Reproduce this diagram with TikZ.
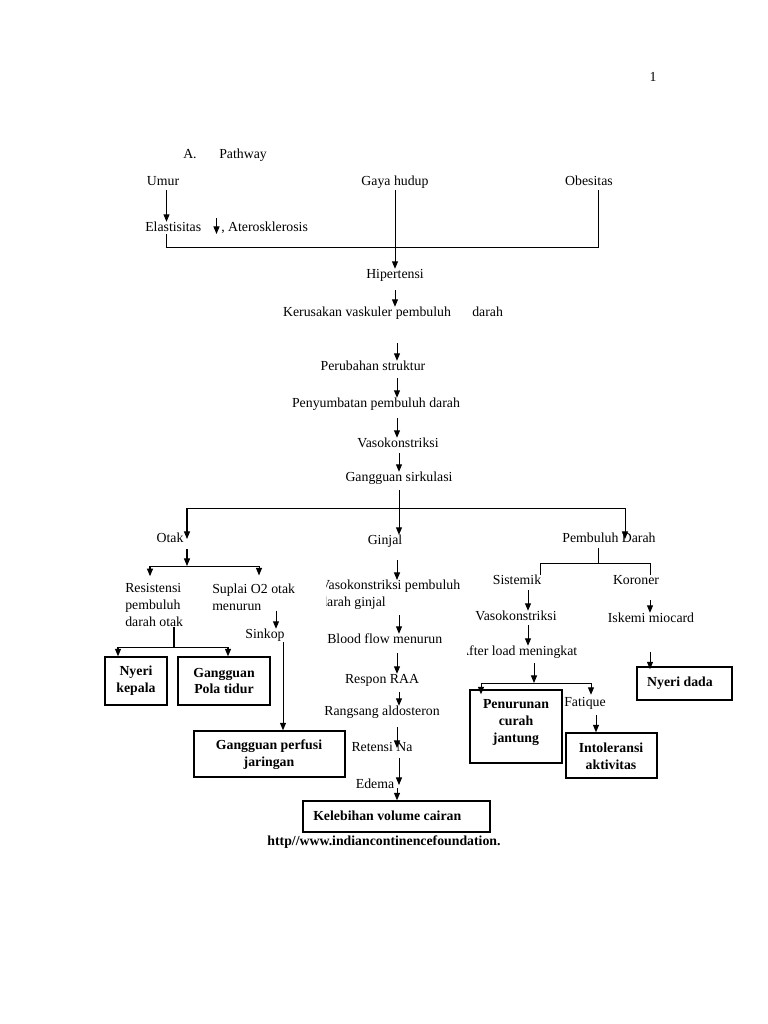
\documentclass[tikz,border=0pt]{standalone}
\usepackage{fontspec}
\setmainfont{Liberation Serif}
\usetikzlibrary{arrows.meta,fit,calc}
\begin{document}
\begin{tikzpicture}[x=0.797pt,y=-0.797pt,font=\fontsize{11}{13.5}\selectfont,
		tx/.style={inner sep=0pt,text height=7.5pt,text depth=2pt},
		mt/.style={inner sep=0pt,align=left},
		bt/.style={inner sep=0pt,align=center,font=\fontsize{11}{13.5}\selectfont\bfseries},
		bx/.style={draw,line width=1.1pt,inner sep=0pt},
		ar/.style={line width=0.8pt,-{Triangle[length=6pt,width=4.8pt]}},
		ln/.style={line width=0.8pt}]
	\useasboundingbox (0,0) rectangle (768,1024);
	% heading
	\node[tx] (pg) at (653,78) {1};
	\node[tx,anchor=west] (hA) at (183,155) {A.};
	\node[tx,anchor=west] (hP) at (219,155) {Pathway};
	% causes
	\node[tx] (umur) at (163,182) {Umur};
	\node[tx] (gaya) at (395,182) {Gaya hudup};
	\node[tx] (obes) at (589,182) {Obesitas};
	\node[tx,anchor=west] (elast) at (145,228) {Elastisitas};
	\node[tx,anchor=west] (ater) at (221,228) {, Aterosklerosis};
	\coordinate (cU) at (166.5,247);
	\coordinate (cR) at (598,247);
	\draw[ar] ($(umur.south -| cU)+(0,2)$) -- (elast.north -| cU);
	\draw[ar] ($(ater.west)+(-4.5,-10)$) -- ($(ater.west)+(-4.5,6)$);
	\draw[ln] (elast.south -| cU) -- (cU) -- (cR) -- ($(obes.south -| cR)+(0,2)$);
	% main column
	\coordinate (c1) at (397,0);
	\coordinate (c2) at (399,0);
	\node[tx] (hip) at (395,275) {Hipertensi};
	\node[tx] (kerus) at (393,313) {Kerusakan vaskuler pembuluh\hspace{17pt}darah};
	\node[tx] (perub) at (373,367) {Perubahan struktur};
	\node[tx] (peny) at (376,404) {Penyumbatan pembuluh darah};
	\node[tx] (vaso) at (398,444) {Vasokonstriksi};
	\node[tx] (gang) at (399,478) {Gangguan sirkulasi};
	\draw[ar] ($(gaya.south)+(0,2)$) -- (hip.north);
	\draw[ar] ($(hip.south)+(0,9)$) -- (kerus.north -| hip);
	\draw[ar] ($(kerus.south -| c1)+(0,24)$) -- (perub.north -| c1);
	\draw[ar] ($(perub.south -| c1)+(0,5)$) -- (peny.north -| c1);
	\draw[ar] ($(peny.south -| c1)+(0,8)$) -- (vaso.north -| c1);
	\draw[ar] ($(vaso.south -| c2)+(0,3)$) -- (gang.north -| c2);
	% three organs
	\node[tx] (otak) at (170,539) {Otak};
	\node[tx] (ginjal) at (385,541) {Ginjal};
	\node[tx] (pd) at (609,539) {Pembuluh Darah};
	\coordinate (bL) at (187,508);
	\coordinate (bR) at (625,508);
	\draw[ar] ($(gang.south -| c2)+(0,6)$) -- (ginjal.north -| c2);
	\draw[ar] (bR) -- (bL) -- (otak.east -| bL);
	\draw[ar] (bR) -- (pd -| bR);
	% otak
	\node[mt,anchor=west] (resist) at (125,605) {Resistensi\\pembuluh\\darah otak};
	\node[mt,anchor=west] (suplai) at (212,597) {Suplai O2 otak\\menurun};
	\node[tx] (sinkop) at (265,635) {Sinkop};
	\node[bx,fit={(105,657) (167,705)}] (nk) {};
	\node[bt] (nkt) at (136,681) {Nyeri\\kepala};
	\node[bx,fit={(178,657) (270,705)}] (gpt) {};
	\node[bt] (gptt) at (224,681) {Gangguan\\Pola tidur};
	\node[bx,fit={(194,731) (345,777)}] (gpj) {};
	\node[bt] (gpjt) at (269,755) {Gangguan perfusi\\jaringan};
	\coordinate (b2L) at (150,566);
	\coordinate (b2R) at (259,566);
	\coordinate (xs) at (276,0);
	\coordinate (xk) at (283,0);
	\coordinate (b3m) at (174,647);
	\coordinate (b3L) at (118,647);
	\coordinate (b3R) at (228,647);
	\draw[ar] ($(otak.south -| bL)+(0,4)$) -- (b2L -| bL);
	\draw[ar] (b2R) -- (b2L) -- ($(resist.north -| b2L)+(0,-7)$);
	\draw[ar] (b2R) -- ($(suplai.north -| b2R)+(0,-8)$);
	\draw[ar] (suplai.south -| xs) -- (sinkop.north -| xs);
	\draw[ln] (resist.south -| b3m) -- (b3m);
	\draw[ar] (b3R) -- (b3L) -- (nk.north -| b3L);
	\draw[ar] (b3R) -- (gpt.north -| b3R);
	\draw[ar] ($(sinkop.south -| xk)+(0,1)$) -- (gpj.north -| xk);
	% ginjal
	\begin{scope}
		\clip (326,570) rectangle (470,615);
		\node[mt,anchor=west] (vpg) at (320,595) {Vasokonstriksi pembuluh\\darah ginjal};
	\end{scope}
	\node[tx,anchor=west] (bf) at (327,640) {Blood flow menurun};
	\node[tx] (raa) at (382,680) {Respon RAA};
	\node[tx] (ald) at (382,712) {Rangsang aldosteron};
	\node[tx] (ret) at (382,748) {Retensi Na};
	\node[tx] (edema) at (375,785) {Edema};
	\node[bx,fit={(303,801) (490,832)}] (keleb) {};
	\node[bt,anchor=west] (kelebt) at (313,816) {Kelebihan volume cairan};
	\node[bt] (url) at (384,842) {http//www.indiancontinencefoundation.};
	\draw[ar] ($(ginjal.south -| c1)+(0,13)$) -- (vpg.north -| c1);
	\draw[ar] ($(vpg.south -| c2)+(0,5)$) -- (bf.north -| c2);
	\draw[ar] ($(bf.south -| c1)+(0,7)$) -- (raa.north -| c1);
	\draw[ar] ($(raa.south -| c2)+(0,6)$) -- (ald.north -| c2);
	\draw[ar] ($(ald.south -| c1)+(0,9)$) -- (ret -| c1);
	\draw[ar] ($(ret.south -| c2)+(0,4)$) -- (edema -| c2);
	\draw[ar] ($(edema.south -| c1)+(0,-3)$) -- (keleb.north -| c1);
	% pembuluh darah
	\node[tx] (sist) at (517,581) {Sistemik};
	\node[tx] (kor) at (636,581) {Koroner};
	\node[tx] (vas2) at (516,617) {Vasokonstriksi};
	\begin{scope}
		\clip (467,640) rectangle (600,665);
		\node[tx,anchor=west] (after) at (459,652) {After load meningkat};
	\end{scope}
	\node[bx,fit={(470,690) (562,763)}] (pcj) {};
	\node[bt,anchor=north] (pcjt) at (516,699) {Penurunan\\curah\\jantung};
	\node[tx] (fat) at (585,703) {Fatique};
	\node[bx,fit={(566,733) (657,778)}] (ia) {};
	\node[bt] (iat) at (611,756) {Intoleransi\\aktivitas};
	\node[tx] (isk) at (651,619) {Iskemi miocard};
	\node[bx,fit={(637,667) (732,700)}] (nd) {};
	\node[bt] (ndt) at (680,683) {Nyeri dada};
	\coordinate (b4m) at (598,563);
	\coordinate (b4L) at (540,563);
	\coordinate (b4R) at (650,563);
	\coordinate (xa) at (528,0);
	\coordinate (b5m) at (534,683);
	\coordinate (b5L) at (481,683);
	\coordinate (b5R) at (591,683);
	\coordinate (xf) at (596,0);
	\coordinate (xi) at (650,0);
	\draw[ln] ($(pd.south -| b4m)+(0,3)$) -- (b4m);
	\draw[ln] (b4L |- sist.north) -- (b4L) -- (b4R) -- (b4R |- kor.north);
	\draw[ar] ($(sist.south -| xa)+(0,3)$) -- (vas2.north -| xa);
	\draw[ar] ($(vas2.south -| xa)+(0,2)$) -- (after.north -| xa);
	\draw[ar] ($(after.south -| b5m)+(0,5)$) -- (b5m);
	\draw[ar] (b5R) -- (b5L) -- ($(pcj.north -| b5L)+(0,5)$);
	\draw[ar] (b5R) -- ($(fat.north -| b5R)+(0,-2)$);
	\draw[ar] ($(fat.south -| xf)+(0,6)$) -- (ia.north -| xf);
	\draw[ar] ($(kor.south -| xi)+(0,13)$) -- (isk.north -| xi);
	\draw[ar] ($(isk.south -| xi)+(0,27)$) -- ($(nd.north -| xi)+(0,3)$);
\end{tikzpicture}
\end{document}
